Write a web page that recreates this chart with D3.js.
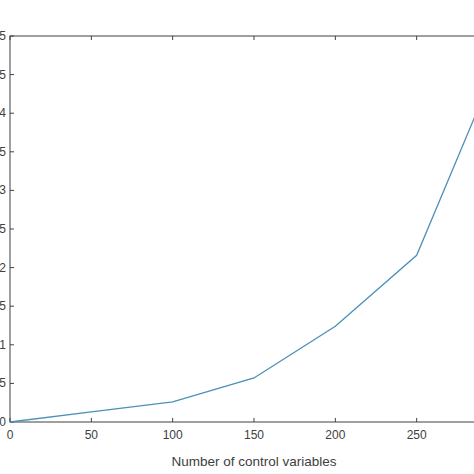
<!DOCTYPE html><html><head><script src="https://cdn.jsdelivr.net/npm/d3@7"></script>
<style>body{margin:0;background:#fff}</style></head><body><svg id="c" width="474" height="474"></svg><script>
const xVals=[0,50,100,150,200,250,300];
const yVals=[0,0.13,0.26,0.57,1.24,2.16,4.67];
const xTicks=[0,50,100,150,200,250,300];
const yTicks=[0,0.5,1,1.5,2,2.5,3,3.5,4,4.5,5];
const svg=d3.select("#c");
const L=10,T=36,B=422,R=498;
const x=d3.scaleLinear().domain([0,300]).range([L,R]);
const y=d3.scaleLinear().domain([0,5]).range([B,T]);
const g=svg.append("g").style("font-family","Liberation Sans, Arial").style("font-size","12px");
const col="#404040";
g.append("rect").attr("x",L).attr("y",T).attr("width",R-L).attr("height",B-T).attr("fill","none").attr("stroke",col).attr("stroke-width",1);
xTicks.forEach(t=>{
 g.append("line").attr("x1",x(t)).attr("x2",x(t)).attr("y1",B).attr("y2",B-4).attr("stroke",col);
 g.append("line").attr("x1",x(t)).attr("x2",x(t)).attr("y1",T).attr("y2",T+4).attr("stroke",col);
 g.append("text").attr("x",x(t)).attr("y",B+17).attr("text-anchor","middle").attr("fill",col).text(t);
});
yTicks.forEach(t=>{
 g.append("line").attr("x1",L).attr("x2",L+4).attr("y1",y(t)).attr("y2",y(t)).attr("stroke",col);
 g.append("text").attr("x",L-4).attr("y",y(t)+4).attr("text-anchor","end").attr("fill",col).text(t);
});
g.append("path").datum(xVals.map((v,i)=>[v,yVals[i]])).attr("d",d3.line().x(d=>x(d[0])).y(d=>y(d[1])))
 .attr("fill","none").attr("stroke","#4a90b8").attr("stroke-width",1.3);
g.append("text").attr("x",254).attr("y",466).attr("text-anchor","middle").attr("fill",col).style("font-size","13.5px").text("Number of control variables");
</script></body></html>
